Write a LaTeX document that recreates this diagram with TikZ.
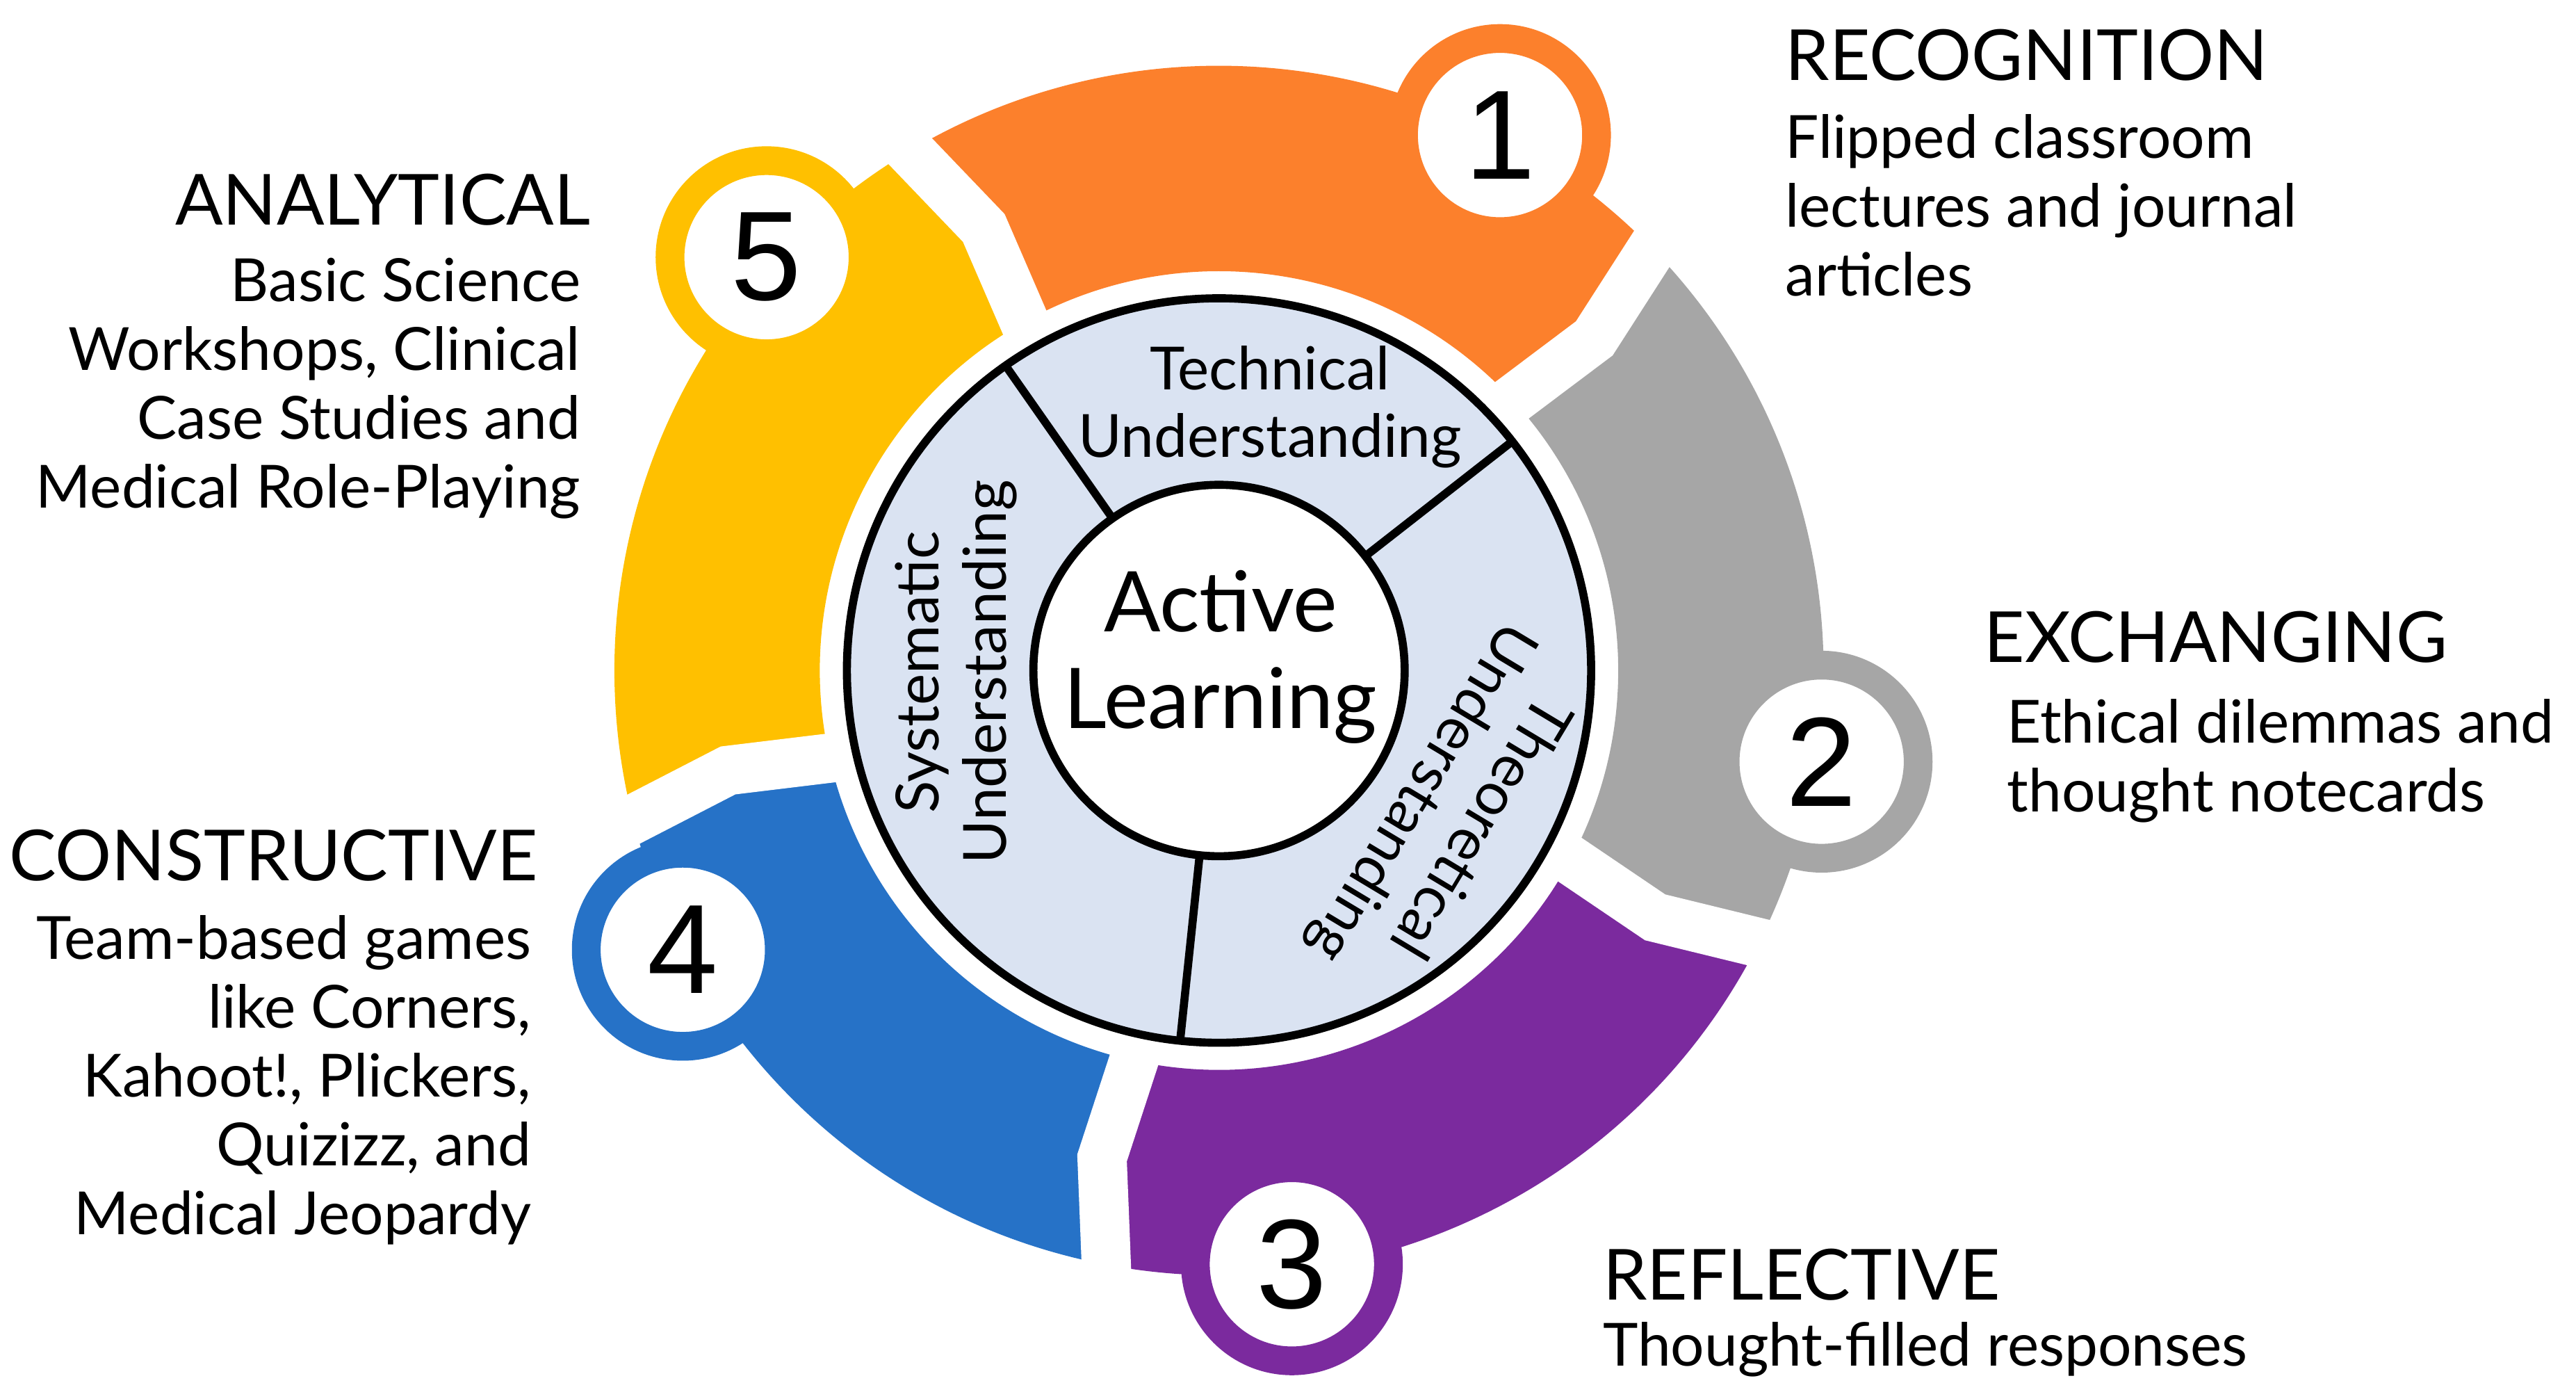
\documentclass[tikz,border=0pt]{standalone}
\usepackage{fontspec}
\setmainfont{Lato}
\newfontfamily\numfont{Liberation Sans}
\usetikzlibrary{positioning}
\definecolor{segorange}{RGB}{252,128,44}
\definecolor{seggray}{RGB}{166,166,166}
\definecolor{segpurple}{RGB}{123,42,158}
\definecolor{segblue}{RGB}{38,114,199}
\definecolor{segyellow}{RGB}{255,192,0}
\definecolor{ringblue}{RGB}{218,227,242}

\begin{document}
\begin{tikzpicture}[
  numbubble/.style={circle, line width=0.175cm, fill=white, minimum size=1.175cm,
                    inner sep=0pt, font=\numfont\fontsize{22}{22}\selectfont},
  gapline/.style={white, line width=0.3cm},
  ringline/.style={black, line width=1.4pt},
  ringlabel/.style={align=center, inner sep=0pt, font=\fontsize{10.3}{11.6}\selectfont},
  head/.style={inner sep=0pt, font=\fontsize{12.2}{13}\selectfont},
  body/.style={inner sep=0pt, font=\fontsize{10.3}{11.9}\selectfont},
]
  \useasboundingbox (0,0) rectangle (15.68,8.51);
  \coordinate (C) at (7.42,4.43);

  \begin{scope}[shift={(C)}]
    % coloured ring, one sector per stage
    \foreach \a/\b/\col in {43/119.5/segorange, -28/43/seggray, -102/-28/segpurple,
                            193/258/segblue, 119.5/193/segyellow}
      \fill[\col] (\a:2.43) arc[start angle=\a, end angle=\b, radius=2.43]
        -- (\b:3.68) arc[start angle=\b, end angle=\a, radius=3.68] -- cycle;
    \foreach \g in {43, -28, -102, 193, 119.5}
      \draw[gapline] (\g:2.3) -- ({\g-1.5}:3.05) -- ({\g+2}:3.9);

    % inner disc
    \draw[ringline, fill=ringblue] (0,0) circle (2.265);
    \foreach \t in {38, 125, 264}
      \draw[ringline] (\t:1.13) -- (\t:2.265);
    \draw[ringline, fill=white] (0,0) circle (1.13);

    % number bubbles
    \node[numbubble, draw=segorange] (b1) at (62.3:3.68) {1};
    \node[numbubble, draw=seggray]   (b2) at (-8.6:3.71) {2};
    \node[numbubble, draw=segpurple] (b3) at (-83:3.64)  {3};
    \node[numbubble, draw=segblue]   (b4) at (207.5:3.68) {4};
    \node[numbubble, draw=segyellow] (b5) at (137.6:3.73) {5};
  \end{scope}

  \node[align=center, inner sep=0pt, font=\fontsize{14.5}{16.7}\selectfont, anchor=base]
    (al) at (7.43,4.08) {Active\\Learning};
  \node[ringlabel, anchor=base] (tech) at (7.73,5.73) {Technical\\Understanding};
  \node[ringlabel, rotate=90] (syst) at (5.82,4.42) {Systematic\\Understanding};
  \node[ringlabel, rotate=-121] (theo) at (8.82,3.59) {Theoretical\\Understanding};

  % stage texts
  \node[head, anchor=base west] (recog) at (10.86,8.02) {RECOGNITION};
  \node[body, align=left, anchor=base west] (recogtxt) at ([yshift=-1.31cm]recog.base west)
    {Flipped classroom\\lectures and journal\\articles};
  \node[head, anchor=base west] (exch) at (12.07,4.48) {EXCHANGING};
  \node[body, align=left, anchor=base west] (exchtxt) at ([xshift=0.14cm,yshift=-0.91cm]exch.base west)
    {Ethical dilemmas and\\thought notecards};
  \node[head, anchor=base west] (refl) at (9.75,0.60) {REFLECTIVE};
  \node[body, anchor=base west] (refltxt) at ([yshift=-0.40cm]refl.base west)
    {Thought-filled responses};
  \node[head, anchor=base east] (constr) at (3.28,3.15) {CONSTRUCTIVE};
  \node[body, align=right, anchor=base east] (constrtxt) at ([xshift=-0.04cm,yshift=-2.15cm]constr.base east)
    {Team-based games\\like Corners,\\Kahoot!, Plickers,\\Quizizz, and\\Medical Jeopardy};
  \node[head, anchor=base east] (analyt) at (3.60,7.14) {ANALYTICAL};
  \node[body, align=right, anchor=base east] (analyttxt) at ([xshift=-0.06cm,yshift=-1.72cm]analyt.base east)
    {Basic Science\\Workshops, Clinical\\Case Studies and\\Medical Role-Playing};
\end{tikzpicture}
\end{document}
